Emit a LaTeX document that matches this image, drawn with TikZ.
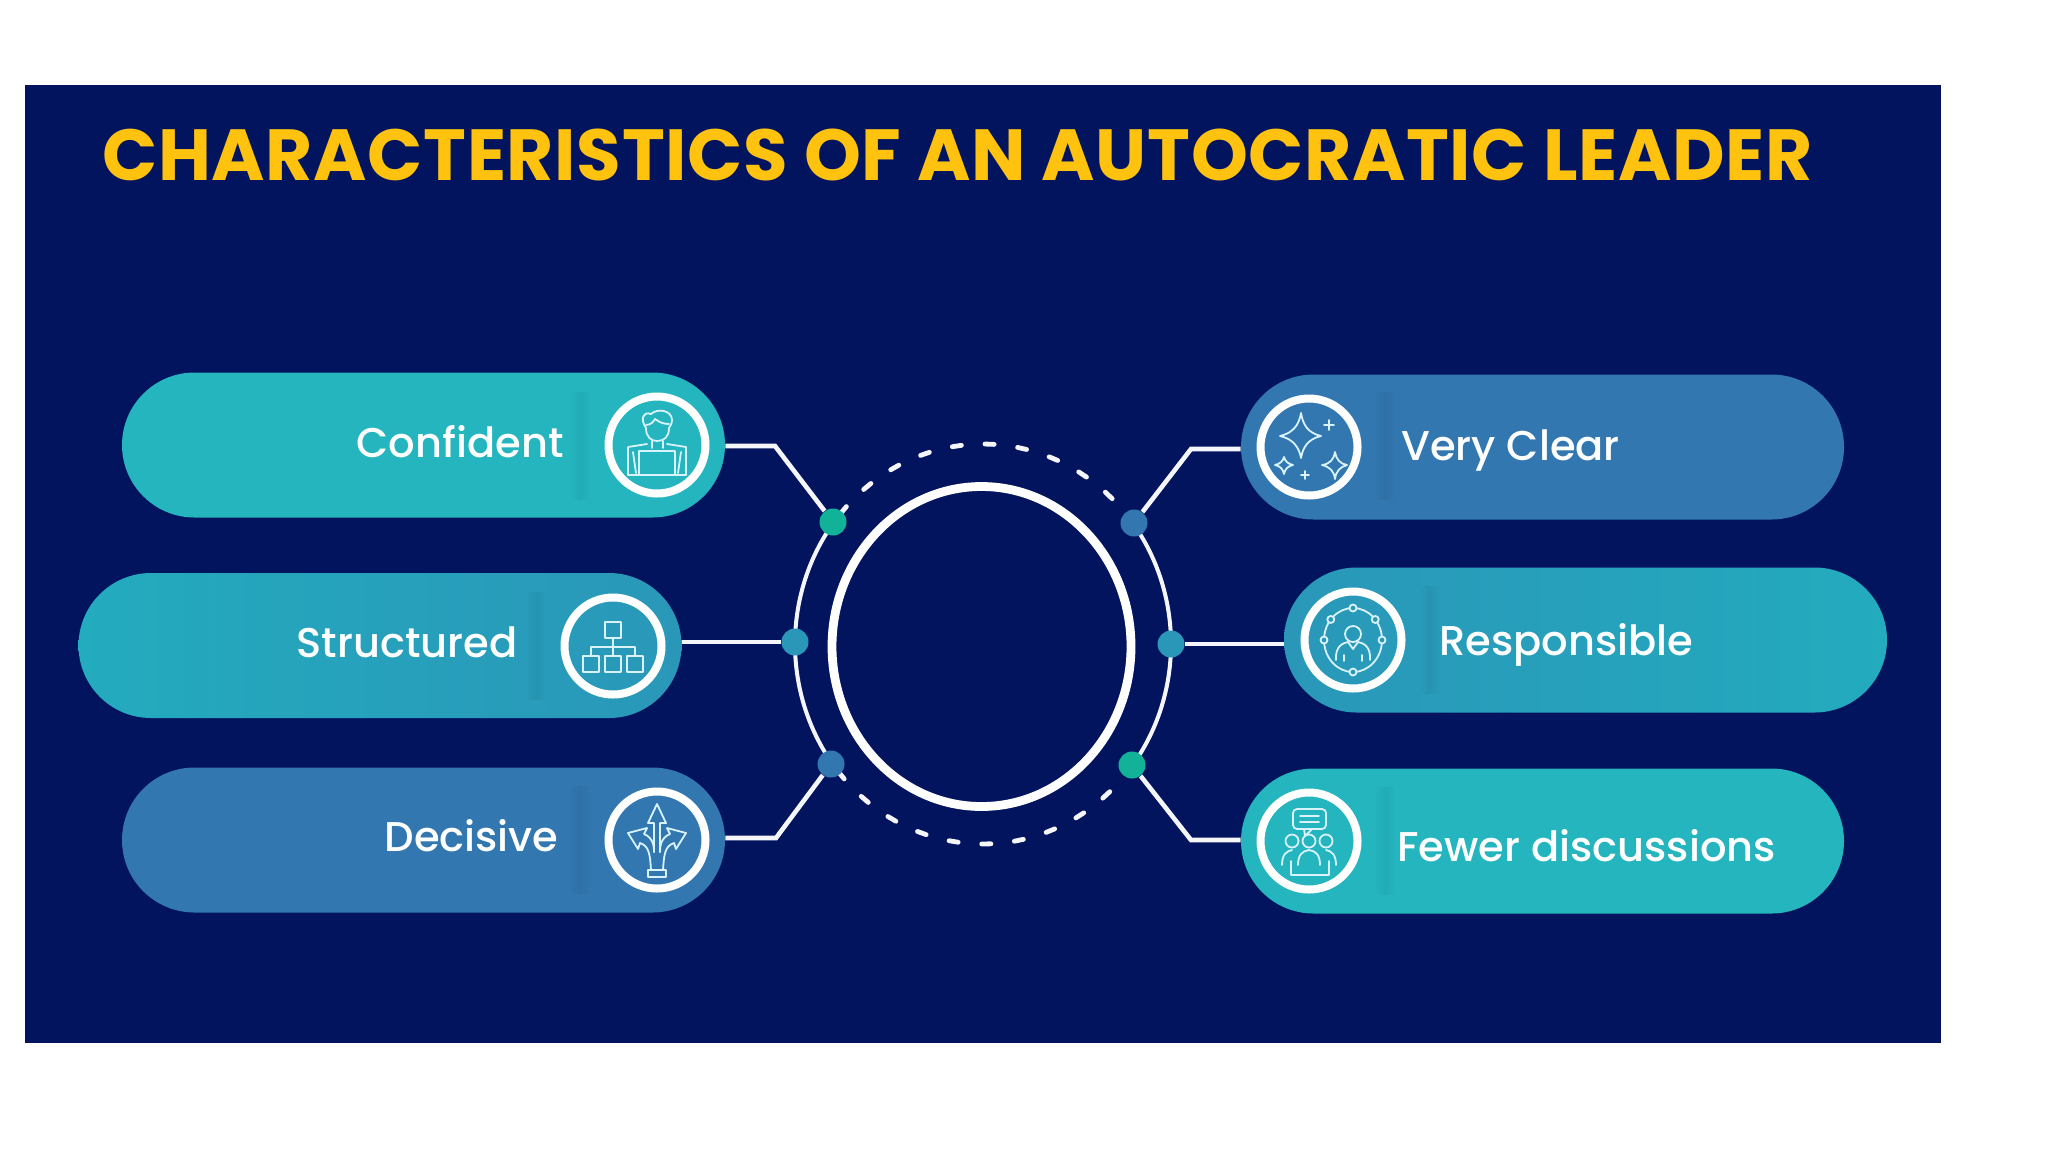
\documentclass[tikz,border=0pt]{standalone}
\usepackage{fontspec}
\setmainfont{Poppins}[UprightFont=* Medium,BoldFont=* Bold]
\usetikzlibrary{shapes.misc,fadings}
\definecolor{bgnavy}{HTML}{03145F}
\definecolor{titlegold}{HTML}{FFC20E}
\definecolor{pteal}{HTML}{24B5BF}
\definecolor{pmid}{HTML}{2A97B9}
\definecolor{pmidb}{HTML}{23ABBE}
\definecolor{pblue}{HTML}{3277B0}
\definecolor{dgreen}{HTML}{12B299}
\definecolor{linewhite}{HTML}{F4F6FB}
\tikzfading[name=sepfade,left color=transparent!100,right color=transparent!100,middle color=transparent!0]
\tikzset{
  x=0.5pt,y=-0.5pt,
  pillbox/.style={rounded rectangle,minimum width=301.5pt,minimum height=72.5pt,inner sep=0pt,draw=none},
  ring/.style={circle,draw=white,line width=4pt,minimum size=48.5pt,inner sep=0pt},
  dotnode/.style={circle,minimum size=13.5pt,inner sep=0pt,fill=#1},
  wire/.style={draw=linewhite,line width=2.3pt},
  label/.style={font=\fontsize{20.8}{25}\selectfont,text=white,inner sep=0pt},
  icon/.style={draw=white!85!cyan,line width=0.9pt,line join=round,line cap=round},
  sepbar/.style={path fading=sepfade,fill=black,fill opacity=0.05},
  dashbit/.style={draw=linewhite,line width=2.4pt,line cap=round},
}
\begin{document}
\begin{tikzpicture}
\useasboundingbox (0,0) rectangle (2048,1152);
\fill[white] (0,0) rectangle (2048,1152);
\fill[bgnavy] (25,85) rectangle (1941,1043);
\node[anchor=base west,text=titlegold,inner sep=0pt,font=\bfseries\fontsize{36.2}{44}\selectfont\addfontfeature{LetterSpace=0.95}] (title) at (102,180) {CHARACTERISTICS OF AN AUTOCRATIC LEADER};

% pills
\node[pillbox,fill=pteal] (pa) at (423.5,445) {};
\node[pillbox,left color=pmidb,right color=pmid] (pb) at (380,645.5) {};
\node[pillbox,fill=pblue] (pc) at (423.5,840) {};
\node[pillbox,fill=pblue] (pd) at (1542.5,447) {};
\node[pillbox,left color=pmid,right color=pmidb] (pe) at (1585.5,640) {};
\node[pillbox,fill=pteal] (pf) at (1542.5,841) {};

% faint separators
\fill[sepbar] (570,392) rectangle (590,500);
\fill[sepbar] (526,592) rectangle (546,700);
\fill[sepbar] (570,786) rectangle (590,894);
\fill[sepbar] (1375,392) rectangle (1395,500);
\fill[sepbar] (1419,586) rectangle (1439,694);
\fill[sepbar] (1375,787) rectangle (1395,895);

% icon rings
\node[ring] (ia) at (657,445) {};
\node[ring] (ib) at (613,646) {};
\node[ring] (ic) at (657,840) {};
\node[ring] (id) at (1309,447) {};
\node[ring] (ie) at (1353,640) {};
\node[ring] (if) at (1309,841) {};

% labels
\node[label,anchor=base east] (la) at (564,457) {Confident};
\node[label,anchor=base east] (lb) at (518,657) {Structured};
\node[label,anchor=base east] (lc) at (559,851) {Decisive};
\node[label,anchor=base west] (ld) at (1401,460) {Very Clear};
\node[label,anchor=base west] (le) at (1439,655) {Responsible};
\node[label,anchor=base west] (lf) at (1397,861) {Fewer discussions};

% centre
\draw[white,line width=4.4pt] (981.5,646.5) circle [x radius=149.5,y radius=160];
% outer ring arcs
\begin{scope}[shift={(983,644)}]
\draw[linewhite,line width=2pt] plot[domain=143:219,samples=40,smooth] ({188*cos(\x)},{200*sin(\x)});
\draw[linewhite,line width=2pt] plot[domain=-39:39,samples=40,smooth] ({188*cos(\x)},{200*sin(\x)});
% dashed arcs
\foreach \t in {222,232,...,312,139,129,...,49}
  \draw[dashbit] ({\t-1.4}:188 and 200) -- ({\t+1.4}:188 and 200);
\end{scope}

% dots
\node[dotnode=dgreen] (da) at (833,522) {};
\node[dotnode=pmid] (db) at (795,642) {};
\node[dotnode=pblue] (dc) at (831,764) {};
\node[dotnode=pblue] (dd) at (1134,523) {};
\node[dotnode=pmid] (de) at (1171,644) {};
\node[dotnode=dgreen] (df) at (1132,765) {};

% connectors
\coordinate (ba) at (775,446);
\coordinate (bc) at (776,838);
\coordinate (bd) at (1191,449);
\coordinate (bf) at (1191,840);
\draw[wire] (pa.east |- ba) -- (ba) -- (da);
\draw[wire] (pb.east |- db) -- (db);
\draw[wire] (pc.east |- bc) -- (bc) -- (dc);
\draw[wire] (pd.west |- bd) -- (bd) -- (dd);
\draw[wire] (pe.west |- de) -- (de);
\draw[wire] (pf.west |- bf) -- (bf) -- (df);

% icon a: person with laptop
\begin{scope}[shift={(657,445)}]
\draw[icon] (-11,-17) .. controls (-17,-26) and (-14,-34) .. (-6,-31) .. controls (0,-37) and (15,-35) .. (15,-25) .. controls (15,-21) and (13,-19) .. (12,-17);
\draw[icon] (-11,-17) .. controls (-11,-8) and (-6,-4) .. (0,-4) .. controls (7,-4) and (12,-8) .. (12,-17);
\draw[icon] (-11,-20) .. controls (-6,-20) and (-3,-24) .. (-2,-26) .. controls (3,-22) and (8,-21) .. (12,-21);
\draw[icon] (-5,-4) -- (-5,3) (6,-4) -- (6,3);
\draw[icon] (-29,30) -- (-29,2) -- (-10,-1) (29,30) -- (29,2) -- (10,-1);
\draw[icon] (-18,6) rectangle (18,30);
\draw[icon] (-29,30) -- (29,30);
\draw[icon] (-24,7) -- (-21,28) (24,7) -- (21,28);
\end{scope}

% icon b: org chart
\begin{scope}[shift={(613,646)}]
\draw[icon] (-8,-24) rectangle (8,-8);
\draw[icon] (-30,10) rectangle (-14,26);
\draw[icon] (-8,10) rectangle (8,26);
\draw[icon] (14,10) rectangle (30,26);
\draw[icon] (0,-8) -- (0,10) (-22,10) -- (-22,1) -- (22,1) -- (22,10);
\end{scope}

% icon c: three arrows
\begin{scope}[shift={(657,840)}]
\draw[icon] (0,-36) -- (-9,-17) -- (-3,-17) -- (-3,12) (0,-36) -- (9,-17) -- (3,-17) -- (3,12);
\draw[icon] (-29,-7) -- (-10,-12) -- (-13,-6) .. controls (-3,-2) and (-3,8) .. (-3,12);
\draw[icon] (-29,-7) -- (-19,9) -- (-17,3) .. controls (-8,6) and (-7,14) .. (-6,30);
\draw[icon] (29,-7) -- (10,-12) -- (13,-6) .. controls (3,-2) and (3,8) .. (3,12);
\draw[icon] (29,-7) -- (19,9) -- (17,3) .. controls (8,6) and (7,14) .. (6,30);
\draw[icon] (-9,30) rectangle (9,37);
\end{scope}

% icon d: sparkles
\begin{scope}[shift={(1309,447)}]
\draw[icon] (-8,-34) .. controls (-6,-22) and (-1,-14) .. (12,-11) .. controls (-1,-8) and (-6,0) .. (-8,11) .. controls (-10,0) and (-16,-8) .. (-29,-11) .. controls (-16,-14) and (-10,-22) .. (-8,-34) -- cycle;
\draw[icon] (26,5) .. controls (27,12) and (31,17) .. (38,18) .. controls (31,20) and (27,24) .. (26,32) .. controls (25,24) and (21,20) .. (13,18) .. controls (21,17) and (25,12) .. (26,5) -- cycle;
\draw[icon] (-25,10) .. controls (-24,14) and (-21,17) .. (-16,18) .. controls (-21,19) and (-24,22) .. (-25,27) .. controls (-26,22) and (-29,19) .. (-34,18) .. controls (-29,17) and (-26,14) .. (-25,10) -- cycle;
\draw[icon] (-4,24) -- (-4,32) (-8,28) -- (0,28);
\draw[icon] (20,-27) -- (20,-17) (15,-22) -- (25,-22);
\end{scope}

% icon e: person in network
\begin{scope}[shift={(1353,640)}]
\draw[icon] (0,0) circle [x radius=29,y radius=32];
\foreach \a in {-90,-40,-140,0,180,90}
  \filldraw[icon,fill=pmid] (\a:29 and 32) circle [radius=3.5];
\draw[icon] (0,-6) circle [radius=8];
\draw[icon] (-17,20) .. controls (-18,6) and (-10,3) .. (-5,2) -- (0,9) -- (5,2) .. controls (10,3) and (18,6) .. (17,20);
\draw[icon] (-9,15) -- (-9,21) (9,15) -- (9,21);
\end{scope}

% icon f: meeting with speech bubble
\begin{scope}[shift={(1309,841)}]
\draw[icon,rounded corners=2pt] (-16,-32) rectangle (17,-12);
\draw[icon] (-5,-12) -- (-4,-5) -- (3,-12);
\draw[icon] (-9,-25) -- (10,-25) (-9,-19) -- (10,-19);
\draw[icon] (-17,0) circle [radius=6.5];
\draw[icon] (0,0) circle [radius=6.5];
\draw[icon] (17,0) circle [radius=6.5];
\draw[icon] (-27,24) .. controls (-27,13) and (-22,10) .. (-17,9) (27,24) .. controls (27,13) and (22,10) .. (17,9);
\draw[icon] (-11,24) .. controls (-11,14) and (-7,10) .. (0,9) .. controls (7,10) and (11,14) .. (11,24);
\draw[icon] (-18,20) -- (-18,34) -- (20,34) -- (20,20);
\end{scope}
\end{tikzpicture}
\end{document}
